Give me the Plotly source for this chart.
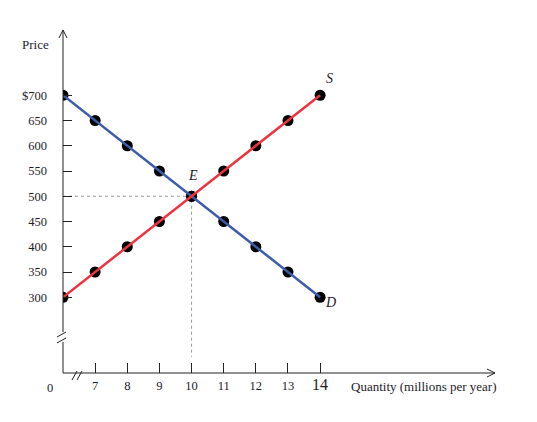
import plotly.graph_objects as go

# quantity (millions per year) and prices ($)
quantity = [6, 7, 8, 9, 10, 11, 12, 13, 14]
demand_price = [700, 650, 600, 550, 500, 450, 400, 350, 300]
supply_price = [300, 350, 400, 450, 500, 550, 600, 650, 700]

x_ticks = [6, 7, 8, 9, 10, 11, 12, 13, 14]
x_labels = ["", "7", "8", "9", "10", "11", "12", "13", "<span style='font-size:16px'>14</span>"]
y_ticks = [300, 350, 400, 450, 500, 550, 600, 650, 700]
y_labels = ["300", "350", "400", "450", "500", "550", "600", "650", "$700"]

eq_q, eq_p = 10, 500
guide_bottom = 182

BLUE = "#3d5ca8"
RED = "#ec3340"
AXIS = "#222"
FONT = "Liberation Serif"

fig = go.Figure()

# equilibrium guides
fig.add_trace(go.Scatter(x=[quantity[0], eq_q, eq_q], y=[eq_p, eq_p, guide_bottom],
                         mode="lines", line=dict(color="#9a9a9a", width=1, dash="dot"),
                         hoverinfo="skip"))

# dots under the lines
fig.add_trace(go.Scatter(x=quantity, y=demand_price, mode="markers",
                         marker=dict(color="black", size=11), name="D points"))
fig.add_trace(go.Scatter(x=quantity, y=supply_price, mode="markers",
                         marker=dict(color="black", size=11), name="S points"))

fig.add_trace(go.Scatter(x=quantity, y=demand_price, mode="lines",
                         line=dict(color=BLUE, width=2.5), name="Demand"))
fig.add_trace(go.Scatter(x=quantity, y=supply_price, mode="lines",
                         line=dict(color=RED, width=2.5), name="Supply"))

x_max = 6 + 432 / 32.14
y_max = 150 + 343 / 25.25 * 50

fig.update_layout(
    width=537, height=422,
    margin=dict(l=55, r=50, t=22, b=57),
    paper_bgcolor="white", plot_bgcolor="white",
    showlegend=False,
    font=dict(family=FONT, size=13, color="#1c1c2c"),
    xaxis=dict(range=[6, x_max], showgrid=False, zeroline=False,
               showline=False,
               tickvals=x_ticks, ticktext=x_labels, tickfont=dict(size=12.5),
               ticks="inside", ticklen=10, tickcolor=AXIS,
               ticklabelstandoff=3),
    yaxis=dict(range=[150, y_max], showgrid=False, zeroline=False,
               showline=False,
               tickvals=y_ticks, ticktext=y_labels, tickfont=dict(size=12.5),
               ticks="inside", ticklen=9, tickcolor=AXIS,
               ticklabelstandoff=15),
)


def px_line(x0, y0, x1, y1, xa=0, ya=0):
    # line in pixels, anchored on the plot area's corner (paper coords)
    fig.add_shape(type="line", xref="paper", yref="paper",
                  xsizemode="pixel", ysizemode="pixel", xanchor=xa, yanchor=ya,
                  x0=x0, y0=y0, x1=x1, y1=y1, line=dict(color=AXIS, width=1))


# x axis
fig.add_shape(type="line", xref="paper", yref="paper", x0=0, x1=1, y0=0, y1=0,
              line=dict(color=AXIS, width=1))
# y axis, broken
px_line(0, 0, 0, 31)
px_line(0, 41, 0, 343)
px_line(-6, 36, 3, 41)
px_line(-6, 30, 3, 35)
# x axis break marks
px_line(9, -7, 14, 2)
px_line(14, -7, 19, 2)
# arrow heads
px_line(-4, -8, 0, 0, xa=0, ya=1)
px_line(4, -8, 0, 0, xa=0, ya=1)
px_line(-8, 4, 0, 0, xa=1, ya=0)
px_line(-8, -4, 0, 0, xa=1, ya=0)

fig.add_annotation(x=6, y=150, text="0", showarrow=False, xanchor="center",
                   yanchor="top", xshift=-13, yshift=-6, font=dict(size=12.5))
fig.add_annotation(x=14.9, y=150, text="Quantity (millions per year)", showarrow=False,
                   xanchor="left", yanchor="top", yshift=-4)
fig.add_annotation(x=6, y=800, text="Price", showarrow=False,
                   xanchor="right", xshift=-12)
fig.add_annotation(x=quantity[-1], y=supply_price[-1], text="<i>S</i>", showarrow=False,
                   xshift=9, yshift=17, font=dict(size=14))
fig.add_annotation(x=quantity[-1], y=demand_price[-1], text="<i>D</i>", showarrow=False,
                   xshift=10, yshift=-5, font=dict(size=14))
fig.add_annotation(x=eq_q, y=eq_p, text="<i>E</i>", showarrow=False,
                   xshift=1, yshift=21, font=dict(size=14))

fig.write_html("out.html")
